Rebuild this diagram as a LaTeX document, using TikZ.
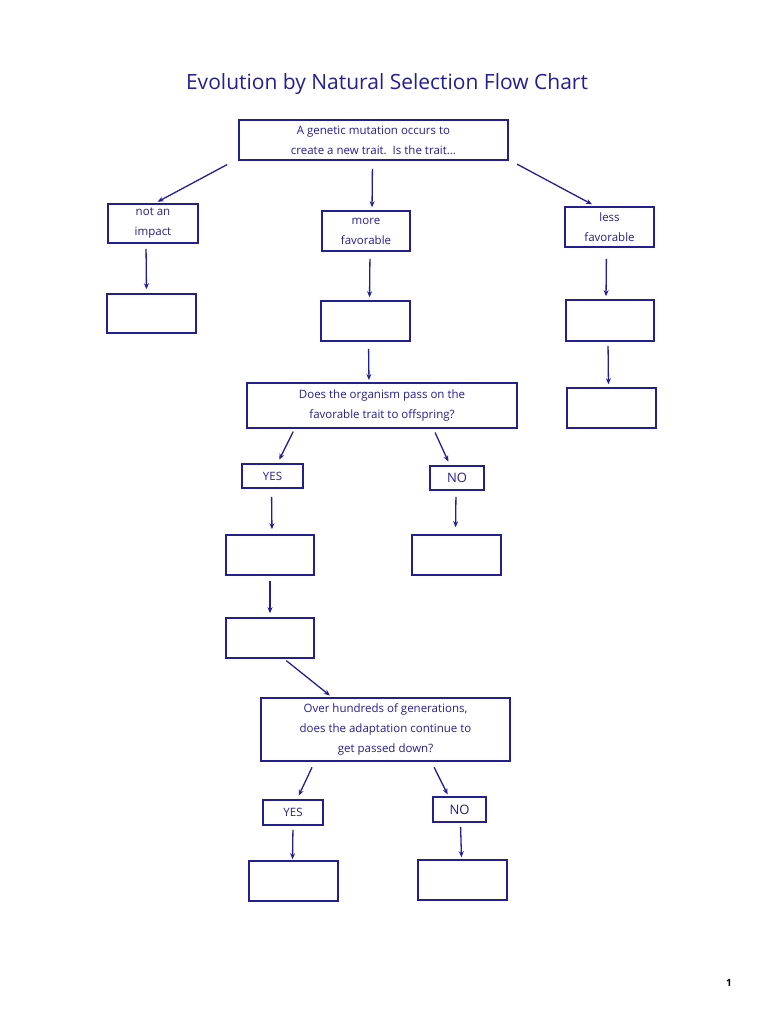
\documentclass[tikz,border=0pt]{standalone}
\usepackage{fontspec}
\setmainfont{Open Sans}
\usetikzlibrary{arrows.meta}
\definecolor{ink}{RGB}{35,30,150}
\begin{document}
\begin{tikzpicture}[x=1pt,y=-1pt,
  bx/.style={draw=ink,line width=1.6pt,text=ink,align=center,inner sep=1pt,font=\fontsize{11.5}{20}\selectfont},
  arr/.style={draw=ink,line width=1.3pt,-{Stealth[length=6pt,width=5pt]}}]
\useasboundingbox (0,0) rectangle (768,1024);
\newcommand{\bbox}[6]{\node[bx,minimum width=#4-#2,minimum height=#5-#3] (#1) at ({(#2+#4)/2},{(#3+#5)/2}) {#6};}
\node[text=ink,font=\fontsize{21}{24}\selectfont] (title) at (387,84) {Evolution by Natural Selection Flow Chart};
\bbox{top}{239}{120}{508}{160}{A genetic mutation occurs to\\create a new trait.\ \ Is the trait...}
\bbox{na}{108}{204}{198}{243}{not an\\impact}
\bbox{mf}{322}{211}{410}{251}{more\\favorable}
\bbox{lf}{565}{207}{654}{247}{less\\favorable}
\bbox{e1}{107}{294}{196}{333}{}
\bbox{e2}{321}{301}{410}{341}{}
\bbox{e3}{566}{300}{654}{341}{}
\bbox{e4}{567}{388}{656}{428}{}
\bbox{q1}{247}{383}{517}{428}{Does the organism pass on the\\favorable trait to offspring?}
\bbox{y1}{242}{464}{303}{488}{YES}
\bbox{n1}{430}{466}{484}{490}{\fontsize{13}{14}\selectfont NO}
\bbox{e5}{226}{535}{314}{575}{}
\bbox{e6}{412}{535}{501}{575}{}
\bbox{e7}{226}{618}{314}{658}{}
\bbox{q2}{261}{698}{510}{761}{Over hundreds of generations,\\does the adaptation continue to\\get passed down?}
\bbox{y2}{263}{800}{323}{825}{YES}
\bbox{n2}{433}{797}{486}{822}{\fontsize{13}{14}\selectfont NO}
\bbox{e8}{249}{861}{338}{901}{}
\bbox{e9}{418}{860}{507}{900}{}
\node[font=\bfseries\fontsize{10}{12}\selectfont] (pg) at (729,983) {1};
\draw[arr,shorten <=8pt,shorten >=3pt] ([xshift=-4pt]top.south west) -- ([xshift=2pt]na.north);
\draw[arr,shorten <=8pt,shorten >=3pt] ([xshift=-1pt]top.south) -- ([xshift=6pt]mf.north);
\draw[arr,shorten <=7pt,shorten >=4pt] ([xshift=2pt]top.south east) -- ([xshift=-14pt]lf.north);
\draw[arr,shorten <=5pt,shorten >=4pt] ([xshift=-7pt]na.south) -- ([xshift=-5pt]e1.north);
\draw[arr,shorten <=7pt,shorten >=3pt] ([xshift=4pt]mf.south) -- ([xshift=4pt]e2.north);
\draw[arr,shorten <=11pt,shorten >=3pt] ([xshift=-3pt]lf.south) -- ([xshift=-4pt]e3.north);
\draw[arr,shorten <=7pt,shorten >=3pt] ([xshift=3pt]e2.south) -- (369,383);
\draw[arr,shorten <=4pt,shorten >=3pt] ([xshift=-2pt]e3.south) -- ([xshift=-3pt]e4.north);
\draw[arr,shorten <=4pt,shorten >=4pt] (295,428) -- ([xshift=5pt]y1.north);
\draw[arr,shorten <=5pt,shorten >=4pt] (433,428) -- ([xshift=-7pt]n1.north);
\draw[arr,shorten <=8pt,shorten >=5pt] ([xshift=-1pt]y1.south) -- ([xshift=2pt]e5.north);
\draw[arr,shorten <=6pt,shorten >=7pt] ([xshift=-1pt]n1.south) -- ([xshift=-1pt]e6.north);
\draw[arr,shorten <=5pt,shorten >=4pt] (e5.south) -- (e7.north);
\draw[arr,shorten <=3pt,shorten >=4pt] ([xshift=14pt]e7.south) -- (333,698);
\draw[arr,shorten <=7pt,shorten >=4pt] (315,761) -- ([xshift=4pt]y2.north);
\draw[arr,shorten <=7pt,shorten >=2pt] (431,761) -- ([xshift=-11pt]n2.north);
\draw[arr,shorten <=4pt,shorten >=1pt] (y2.south) -- ([xshift=-1pt]e8.north);
\draw[arr,shorten <=4pt,shorten >=2pt] ([xshift=1pt]n2.south) -- ([xshift=-1pt]e9.north);
\end{tikzpicture}
\end{document}
